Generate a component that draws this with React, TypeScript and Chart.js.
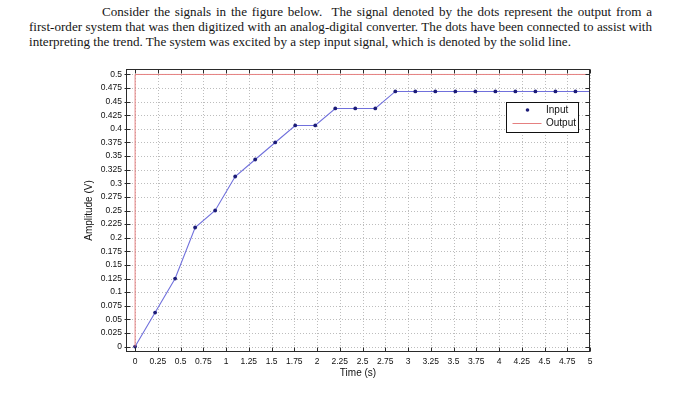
import React, { useEffect, useRef } from "react";
import { Chart, registerables } from "chart.js";

Chart.register(...registerables);

// ---- data ----
const timeS = [0, 0.22, 0.44, 0.66, 0.88, 1.1, 1.32, 1.54, 1.76, 1.98, 2.2, 2.42, 2.64, 2.86, 3.08, 3.3, 3.52, 3.74, 3.96, 4.18, 4.4, 4.62, 4.84, 5.06];
const sampledV = [0, 0.0625, 0.125, 0.21875, 0.25, 0.3125, 0.34375, 0.375, 0.40625, 0.40625, 0.4375, 0.4375, 0.4375, 0.46875, 0.46875, 0.46875, 0.46875, 0.46875, 0.46875, 0.46875, 0.46875, 0.46875, 0.46875, 0.46875];
const stepT = [0, 0, 5.1];
const stepV = [0, 0.5, 0.5];

const xTickValues = [0, 0.25, 0.5, 0.75, 1, 1.25, 1.5, 1.75, 2, 2.25, 2.5, 2.75, 3, 3.25, 3.5, 3.75, 4, 4.25, 4.5, 4.75, 5];
const xTickLabels = ["0", "0.25", "0.5", "0.75", "1", "1.25", "1.5", "1.75", "2", "2.25", "2.5", "2.75", "3", "3.25", "3.5", "3.75", "4", "4.25", "4.5", "4.75", "5"];
const yTickValues = [0, 0.025, 0.05, 0.075, 0.1, 0.125, 0.15, 0.175, 0.2, 0.225, 0.25, 0.275, 0.3, 0.325, 0.35, 0.375, 0.4, 0.425, 0.45, 0.475, 0.5];
const yTickLabels = ["0", "0.025", "0.05", "0.075", "0.1", "0.125", "0.15", "0.175", "0.2", "0.225", "0.25", "0.275", "0.3", "0.325", "0.35", "0.375", "0.4", "0.425", "0.45", "0.475", "0.5"];

const sampledLabel = "Input";
const stepLabel = "Output";
const xTitle = "Time (s)";
const yTitle = "Amplitude (V)";

const headerLines = [
  "Consider the signals in the figure below.\u00a0 The signal denoted by the dots represent the output from a",
  "first-order system that was then digitized with an analog-digital converter. The dots have been connected to assist with",
  "interpreting the trend. The system was excited by a step input signal, which is denoted by the solid line.",
];

const FONT = "'Liberation Sans', Arial, sans-serif";
const BLUE_LINE = "#7070dc";
const BLUE_DOT = "#1c1c78";
const RED_LINE = "#e58080";
const AXIS = "#2a2a2a";
const TEXT = "#111111";

const matlabAxes = {
  id: "matlabAxes",
  beforeDatasetsDraw(chart: any) {
    const { ctx, chartArea: a, scales } = chart;
    const x = scales.x;
    const y = scales.y;
    ctx.save();
    ctx.strokeStyle = "#bdbdbd";
    ctx.lineWidth = 1;
    ctx.setLineDash([1, 2]);
    for (const v of xTickValues) {
      const px = Math.round(x.getPixelForValue(v)) + 0.5;
      ctx.beginPath();
      ctx.moveTo(px, a.top);
      ctx.lineTo(px, a.bottom);
      ctx.stroke();
    }
    for (const v of yTickValues) {
      const py = Math.round(y.getPixelForValue(v)) + 0.5;
      ctx.beginPath();
      ctx.moveTo(a.left, py);
      ctx.lineTo(a.right, py);
      ctx.stroke();
    }
    ctx.restore();
  },
  afterDatasetsDraw(chart: any) {
    const { ctx, chartArea: a, scales } = chart;
    const x = scales.x;
    const y = scales.y;
    ctx.save();
    ctx.setLineDash([]);
    ctx.strokeStyle = AXIS;
    ctx.lineWidth = 1;
    const L = Math.round(a.left) + 0.5;
    const R = Math.round(a.right) - 0.5;
    const T = Math.round(a.top) + 0.5;
    const B = Math.round(a.bottom) - 0.5;
    const tl = 4;
    ctx.beginPath();
    for (const v of xTickValues) {
      const px = Math.round(x.getPixelForValue(v)) + 0.5;
      ctx.moveTo(px, B);
      ctx.lineTo(px, B - tl);
      ctx.moveTo(px, T);
      ctx.lineTo(px, T + tl);
    }
    for (const v of yTickValues) {
      const py = Math.round(y.getPixelForValue(v)) + 0.5;
      ctx.moveTo(L - 2, py);
      ctx.lineTo(L + tl, py);
      ctx.moveTo(R, py);
      ctx.lineTo(R - tl, py);
    }
    ctx.stroke();
    ctx.strokeRect(L, T, R - L, B - T);

    // legend box (inside axes, top right)
    const bw = 72;
    const bh = 30;
    const bx = Math.round(a.right - 12 - bw) + 0.5;
    const by = Math.round(a.top + 33) + 0.5;
    ctx.fillStyle = "#ffffff";
    ctx.fillRect(bx, by, bw, bh);
    ctx.strokeStyle = "#111111";
    ctx.strokeRect(bx, by, bw, bh);
    ctx.font = `10px ${FONT}`;
    ctx.textBaseline = "middle";
    ctx.textAlign = "left";
    // row 1: dot marker
    ctx.fillStyle = BLUE_DOT;
    ctx.beginPath();
    ctx.arc(bx + 21, by + 7.5, 1.8, 0, Math.PI * 2);
    ctx.fill();
    ctx.fillStyle = TEXT;
    ctx.fillText(chart.data.datasets[1].label, bx + 39.5, by + 8);
    // row 2: red line
    ctx.strokeStyle = RED_LINE;
    ctx.beginPath();
    ctx.moveTo(bx + 6, by + 21);
    ctx.lineTo(bx + 35, by + 21);
    ctx.stroke();
    ctx.fillText(chart.data.datasets[0].label, bx + 39.5, by + 21);
    ctx.restore();
  },
};

export default function App() {
  const canvasRef = useRef<HTMLCanvasElement | null>(null);

  useEffect(() => {
    if (!canvasRef.current) return;
    const chart = new Chart(canvasRef.current, {
      type: "line",
      data: {
        datasets: [
          {
            label: stepLabel,
            data: stepT.map((t, i) => ({ x: t, y: stepV[i] })),
            borderColor: RED_LINE,
            borderWidth: 1,
            pointRadius: 0,
            fill: false,
            tension: 0,
            clip: 0,
          },
          {
            label: sampledLabel,
            data: timeS.map((t, i) => ({ x: t, y: sampledV[i] })),
            borderColor: BLUE_LINE,
            borderWidth: 1.1,
            pointRadius: 1.9,
            pointBackgroundColor: BLUE_DOT,
            pointBorderColor: BLUE_DOT,
            pointBorderWidth: 0,
            fill: false,
            tension: 0,
            clip: 0,
          },
        ],
      },
      options: {
        responsive: false,
        maintainAspectRatio: false,
        animation: false,
        devicePixelRatio: 1,
        layout: { padding: { top: 69, right: 110, bottom: 14, left: 83 } },
        plugins: {
          legend: { display: false },
          tooltip: { enabled: false },
          title: { display: false },
        },
        scales: {
          x: {
            type: "linear",
            min: -0.1,
            max: 5,
            grid: { display: false, drawTicks: false },
            border: { display: false },
            afterBuildTicks: (s: any) => {
              s.ticks = xTickValues.map((v) => ({ value: v }));
            },
            afterFit: (s: any) => {
              s.height = 27;
            },
            ticks: {
              autoSkip: false,
              maxRotation: 0,
              padding: 5,
              color: TEXT,
              font: { family: FONT, size: 8.5 },
              callback: (_v: any, i: number) => xTickLabels[i],
            },
            title: {
              display: true,
              text: xTitle,
              color: TEXT,
              padding: 0,
              font: { family: FONT, size: 10 },
            },
          },
          y: {
            type: "linear",
            min: -0.01,
            max: 0.51,
            grid: { display: false, drawTicks: false },
            border: { display: false },
            afterBuildTicks: (s: any) => {
              s.ticks = yTickValues.map((v) => ({ value: v }));
            },
            afterFit: (s: any) => {
              s.width = 43;
            },
            ticks: {
              autoSkip: false,
              padding: 4,
              color: TEXT,
              font: { family: FONT, size: 8.5 },
              callback: (_v: any, i: number) => yTickLabels[i],
            },
            title: {
              display: true,
              text: yTitle,
              color: TEXT,
              padding: 0,
              font: { family: FONT, size: 10 },
            },
          },
        },
      },
      plugins: [matlabAxes],
    } as any);
    return () => chart.destroy();
  }, []);

  const lineStyle: React.CSSProperties = {
    position: "absolute",
    height: 15,
    lineHeight: "15px",
    fontFamily: "'Liberation Serif', 'Times New Roman', serif",
    fontSize: 13.1,
    color: "#151515",
    whiteSpace: "normal",
    overflow: "visible",
  };

  return (
    <div style={{ position: "fixed", left: 0, top: 0, width: 700, height: 393, background: "#ffffff", overflow: "hidden" }}>
      <div style={{ ...lineStyle, left: 102, top: 3.5, width: 550, textAlign: "justify", textAlignLast: "justify" } as any}>{headerLines[0]}</div>
      <div style={{ ...lineStyle, left: 29, top: 18.5, width: 623, textAlign: "justify", textAlignLast: "justify" } as any}>{headerLines[1]}</div>
      <div style={{ ...lineStyle, left: 29, top: 33.5, width: 640, textAlign: "left" }}>{headerLines[2]}</div>
      <canvas ref={canvasRef} width={700} height={393} style={{ position: "absolute", left: 0, top: 0, display: "block" }} />
    </div>
  );
}
